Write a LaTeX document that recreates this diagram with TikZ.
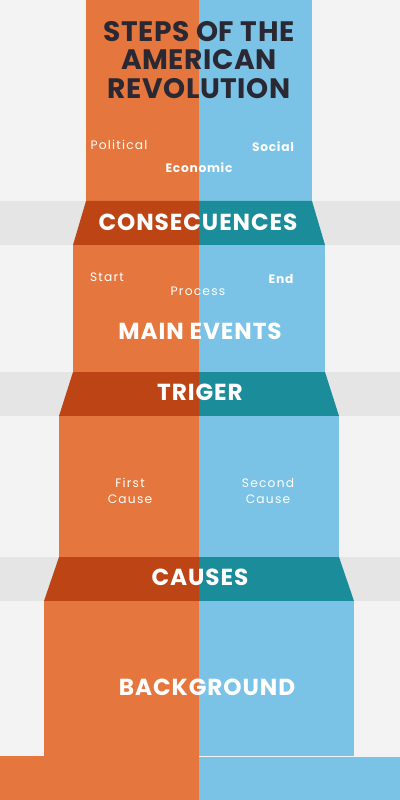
\documentclass[tikz,border=0pt]{standalone}
\usepackage{fontspec}
\setmainfont{Poppins}
\definecolor{pagebg}{HTML}{F3F3F3}
\definecolor{bandgray}{HTML}{E5E5E5}
\definecolor{lightorange}{HTML}{E5773E}
\definecolor{lightblue}{HTML}{7AC3E6}
\definecolor{darkorange}{HTML}{BD4515}
\definecolor{darkteal}{HTML}{1A8C9A}
\definecolor{titleink}{HTML}{2A2833}

\begin{document}
\begin{tikzpicture}[x=0.025cm,y=-0.025cm,
  lbl/.style={text=white,font=\fontsize{8.7}{11}\selectfont\addfontfeature{LetterSpace=10}},
  lblb/.style={text=white,font=\bfseries\fontsize{8.7}{11}\selectfont\addfontfeature{LetterSpace=6}},
  head/.style={text=white,font=\bfseries\fontsize{16.5}{18}\selectfont\addfontfeature{LetterSpace=4}}]
  \fill[pagebg] (0,0) rectangle (400,800);
  \foreach \y in {201,372,557}
    \fill[bandgray] (0,\y) rectangle (400,\y+44);
  % top column
  \fill[lightorange] (86,0) rectangle (199,201);
  \fill[lightblue] (199,0) rectangle (312,201);
  % steps: band trapezoids and the blocks below them
  \foreach \yt/\xa/\xb/\yb in {201/86/73/372,372/73/59/557,557/59/44/756} {
    \fill[darkorange] (\xa,\yt) -- (199,\yt) -- (199,\yt+44) -- (\xb,\yt+44) -- cycle;
    \fill[darkteal] (398-\xa,\yt) -- (199,\yt) -- (199,\yt+44) -- (398-\xb,\yt+44) -- cycle;
    \fill[lightorange] (\xb,\yt+44) rectangle (199,\yb);
    \fill[lightblue] (199,\yt+44) rectangle (398-\xb,\yb);
  }
  % bottom strip
  \fill[lightorange] (0,756) rectangle (199,800);
  \fill[lightblue] (199,757) rectangle (400,800);

  \node[text=titleink,align=center,font=\bfseries\fontsize{20}{20.5}\selectfont\addfontfeature{LetterSpace=2}] (title) at (199,60)
    {STEPS OF THE\\AMERICAN\\REVOLUTION};
  \node[lbl] (political) at (119,145) {Political};
  \node[lblb] (economic) at (199,168) {Economic};
  \node[lblb] (social) at (273,147) {Social};
  \node[head] (consec) at (198,222) {CONSECUENCES};
  \node[lbl] (start) at (107,277) {Start};
  \node[lbl] (process) at (198,291) {Process};
  \node[lblb] (end) at (281,279) {End};
  \node[head] (mainev) at (200,331) {MAIN EVENTS};
  \node[head] (triger) at (200,392) {TRIGER};
  \node[lbl,align=center] (first) at (130,491) {First\\Cause};
  \node[lbl,align=center] (second) at (268,491) {Second\\Cause};
  \node[head] (causes) at (200,577) {CAUSES};
  \node[head] (backgr) at (207,687) {BACKGROUND};
\end{tikzpicture}
\end{document}
